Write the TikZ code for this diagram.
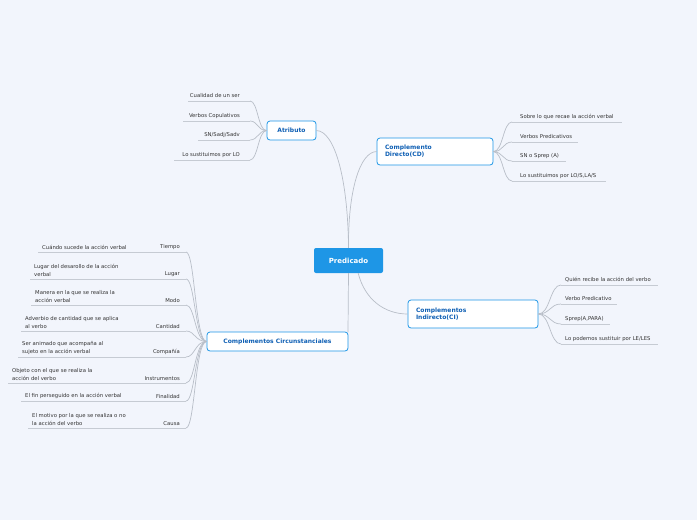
\documentclass[tikz,border=0pt]{standalone}
\usepackage{fontspec}
\setmainfont{DejaVu Sans}
\definecolor{bg}{HTML}{F2F5FC}
\definecolor{mblue}{HTML}{1E96E6}
\definecolor{dblue}{HTML}{0E5FB4}
\definecolor{lin}{HTML}{B8BEC8}
\begin{document}
\begin{tikzpicture}[x=1pt,y=-1pt,
  root/.style={fill=mblue,rounded corners=2pt,text=white,font=\fontsize{7}{8}\selectfont\bfseries,minimum width=69,minimum height=25},
  topic/.style={draw=mblue,line width=0.8pt,fill=white,rounded corners=3pt,text=dblue,font=\fontsize{6}{7}\selectfont\bfseries,align=left,inner xsep=8pt},
  leaf/.style={font=\fontsize{5.3}{8}\selectfont,text=black!80,inner sep=0pt,align=left},
  con/.style={draw=lin,line width=0.7pt},
  ul/.style={draw=lin!80,line width=0.6pt}]
\fill[bg] (0,0) rectangle (697,520);
\useasboundingbox (0,0) rectangle (697,520);
\node[root] (P) at (348.5,260.5) {Predicado};
\node[topic,minimum width=49,minimum height=19,inner xsep=2pt,align=center] (A) at (291.5,130.5) {Atributo};
\node[topic,minimum width=116,minimum height=27,text width=100pt] (CD) at (435,151.5) {Complemento\\Directo(CD)};
\node[topic,minimum width=130,minimum height=28,text width=114pt] (CI) at (473,314) {Complementos\\Indirecto(CI)};
\node[topic,minimum width=141,minimum height=19,inner xsep=2pt,align=center] (CC) at (277.5,341.5) {Complementos Circunstanciales};
\coordinate (CCn) at (348,332);
\draw[con] (P.north) .. controls (348,180) and (335,131) .. (A.east);
\draw[con] (P.north) .. controls (348,190) and (360,152) .. (CD.west);
\draw[con] (P.south east) ++(-25,0) .. controls (365,300) and (385,314) .. (CI.west);
\draw[con] (P.south) -- (CCn);
% Atributo leaves
\foreach \t/\y/\l [count=\i] in {{Cualidad de un ser}/96/62, {Verbos Copulativos}/116/67, {SN/Sadj/Sadv}/135/52, {Lo sustituimos por LO}/155/76}{
  \node[leaf,anchor=east] (a\i) at (240,\y) {\t};
  \coordinate (ae\i) at (250,\y+5);
  \draw[ul] (250-\l,\y+5) -- (ae\i);
  \draw[con] (A.west) .. controls (258,131) and (258,\y+5) .. (ae\i);
}
% CD leaves
\foreach \t/\y/\e [count=\i] in {{Sobre lo que recae la acción verbal}/117/622, {Verbos Predicativos}/137/578, {SN o Sprep (A)}/156/566, {Lo sustituimos por LO/S,LA/S}/176/606}{
  \node[leaf,anchor=west] (d\i) at (520,\y) {\t};
  \coordinate (ds\i) at (512,\y+5);
  \draw[ul] (ds\i) -- (\e,\y+5);
  \draw[con] (CD.east) .. controls (503,152) and (503,\y+5) .. (ds\i);
}
% CI leaves
\foreach \t/\y/\e [count=\i] in {{Quién recibe la acción del verbo}/280/658, {Verbo Predicativo}/299/617, {Sprep(A,PARA)}/319/610, {Lo podemos sustituir por LE/LES}/339/658}{
  \node[leaf,anchor=west] (c\i) at (565,\y) {\t};
  \coordinate (cs\i) at (561,\y+5);
  \draw[ul] (cs\i) -- (\e,\y+5);
  \draw[con] (CI.east) .. controls (550,314) and (550,\y+5) .. (cs\i);
}
% CC leaves
\foreach \d/\lab/\y/\x [count=\i] in {
  {Cuándo sucede la acción verbal}/Tiempo/247/42,
  {Lugar del desarollo de la acción\\verbal}/Lugar/274/34,
  {Manera en la que se realiza la\\acción verbal}/Modo/300/35,
  {Adverbio de cantidad que se aplica\\al verbo}/Cantidad/326/25,
  {Ser animado que acompaña al\\sujeto en la acción verbal}/Compañía/352/22,
  {Objeto con el que se realiza la\\acción del verbo}/Instrumentos/378/12,
  {El fin perseguido en la acción verbal}/Finalidad/396/25,
  {El motivo por la que se realiza o no\\la acción del verbo}/Causa/423/32}{
  \node[leaf,anchor=south west] (t\i) at (\x,\y+2.3) {\d};
  \node[leaf,anchor=south east] (l\i) at (180,\y+2.3) {\lab};
  \coordinate (ce\i) at (186,\y+5);
  \draw[ul] (\x-4,\y+5) -- (ce\i);
  \draw[con] (CC.west) .. controls (195,341.5) and (195,\y+5) .. (ce\i);
}
\end{tikzpicture}
\end{document}
